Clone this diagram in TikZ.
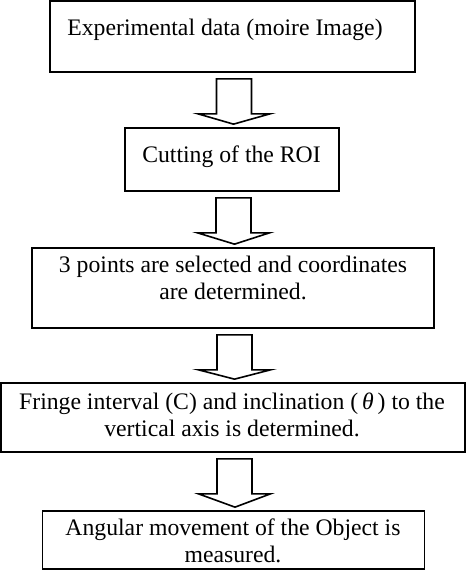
\documentclass[tikz,border=0pt]{standalone}
\usepackage{fontspec}
\setmainfont{Liberation Serif}
\usetikzlibrary{calc}
\tikzset{
  x=1pt, y=1pt,
  box/.style={draw, line width=1.7pt, inner sep=0pt},
  txt/.style={anchor=base, inner sep=0pt, font=\fontsize{23.7}{27.5}\selectfont},
  barrow/.style={draw, line width=1.6pt, line join=miter, fill=white},
}
\newcommand{\blockarrow}[2]{%
  \draw[barrow] ($(#1.south)+(1.5,-6)$) coordinate (s) ++(-17.5,0) -- ++(0,-35)
    -- ++(-18.5,0) -- ($(#2.north)+(1.5,3)$) -- ($(s)+(36,-35)$) -- ($(s)+(17.5,-35)$)
    -- ($(s)+(17.5,0)$) -- cycle;}
\begin{document}
\begin{tikzpicture}
\useasboundingbox (0,0) rectangle (466,-572);
\node[box, minimum width=365pt, minimum height=71pt] (b1) at (232.5,-36.5) {};
\node[box, minimum width=214pt, minimum height=63pt] (b2) at (232,-159.5) {};
\node[box, minimum width=402pt, minimum height=80pt] (b3) at (233,-288) {};
\node[box, minimum width=464pt, minimum height=69pt] (b4) at (233,-417.5) {};
\node[box, minimum width=382pt, minimum height=58pt] (b5) at (233.5,-540) {};

\node[txt] (t1) at (225,-36) {Experimental data (moire Image)};
\node[txt] (t2) at (231.5,-163) {Cutting of the ROI};
\node[txt] (t3) at (233,-272) {\begin{tabular}[t]{@{}c@{}}3 points are selected and coordinates\\are determined.\end{tabular}};
\node[txt] (t4) at (232,-409) {\begin{tabular}[t]{@{}c@{}}Fringe interval (C) and inclination (\,\textit{θ}\,) to the\\vertical axis is determined.\end{tabular}};
\node[txt] (t5) at (233,-535) {\begin{tabular}[t]{@{}c@{}}Angular movement of the Object is\\measured.\end{tabular}};

\blockarrow{b1}{b2}
\blockarrow{b2}{b3}
\blockarrow{b3}{b4}
\blockarrow{b4}{b5}
\end{tikzpicture}
\end{document}
